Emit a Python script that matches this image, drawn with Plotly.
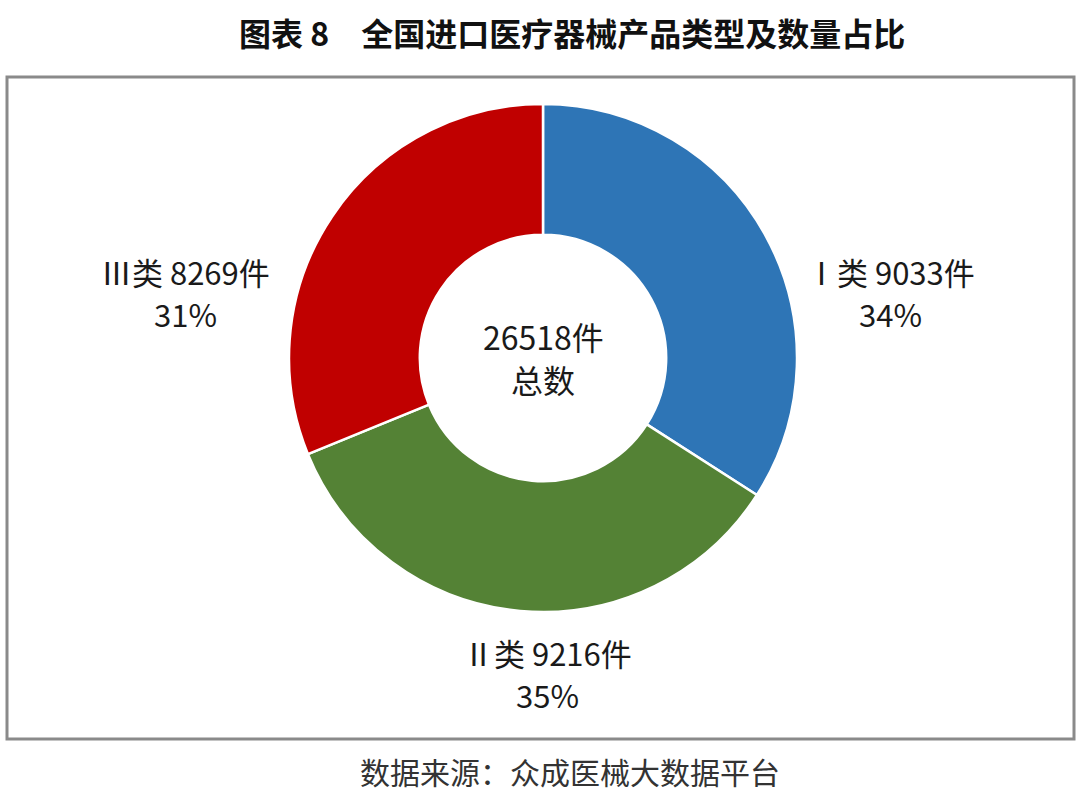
import plotly.graph_objects as go

categories = ["Ⅰ类", "Ⅱ类", "Ⅲ类"]
counts = [9033, 9216, 8269]
colors = ["#2E75B6", "#548235", "#C00000"]
title_text = "图表 8\u3000全国进口医疗器械产品类型及数量占比"
source_text = "数据来源：众成医械大数据平台"
center_label = "总数"

total = sum(counts)
W, H = 1080, 793

def px(x):
    return x / W

def py(y):
    return (H - y) / H

cx, cy, r = 543, 358, 254

fig = go.Figure(go.Pie(
    labels=categories,
    values=counts,
    hole=0.485,
    sort=False,
    direction="clockwise",
    rotation=0,
    marker=dict(colors=colors, line=dict(color="white", width=2.5)),
    textinfo="none",
    hoverinfo="label+value+percent",
    showlegend=False,
    domain=dict(x=[px(cx - r), px(cx + r)], y=[py(cy + r), py(cy - r)]),
))

font_main = "Noto Sans CJK SC, Microsoft YaHei, sans-serif"
label_pos = [(890, 292), (547, 673), (185, 292)]
annotations = []

def add_text(x, y, text, size=31, color="#1a1a1a", family=font_main):
    annotations.append(dict(
        x=px(x), y=py(y), xref="paper", yref="paper",
        text=text, showarrow=False, borderpad=0,
        font=dict(family=family, size=size, color=color),
        align="center", xanchor="center", yanchor="middle",
    ))

for cat, v, (lx, ly) in zip(categories, counts, label_pos):
    pct = round(v / total * 100)
    add_text(lx, ly - 21, f"{cat} {v}件")
    add_text(lx, ly + 21, f"{pct}%")

add_text(cx, 336, f"{total}件", size=32)
add_text(cx, 379, center_label, size=32)
add_text(572, 32, f"<b>{title_text}</b>", size=32, color="#111111",
         family="Noto Sans CJK SC, serif")
add_text(570, 771, source_text, size=30, color="#333333")

fig.update_layout(
    width=W, height=H,
    margin=dict(l=0, r=0, t=0, b=0),
    paper_bgcolor="white", plot_bgcolor="white",
    annotations=annotations,
    shapes=[dict(type="rect", xref="paper", yref="paper",
                 x0=px(7), x1=px(1074), y0=py(739), y1=py(77),
                 line=dict(color="#8a8a8a", width=3), fillcolor="rgba(0,0,0,0)", layer="below")],
)

fig.write_html("out.html",
               config={"displayModeBar": False},
               post_script="document.body.style.margin='0';document.body.style.overflow='hidden';")
